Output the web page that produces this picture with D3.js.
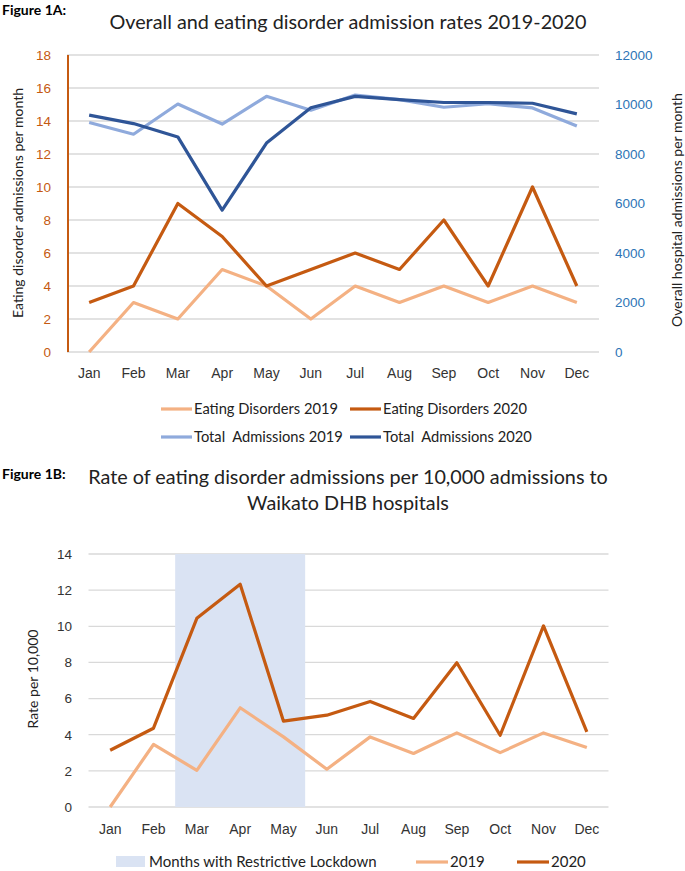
<!DOCTYPE html>
<html>
<head>
<meta charset="utf-8">
<script src="https://cdnjs.cloudflare.com/ajax/libs/d3/7.8.5/d3.min.js"></script>
<style>
  body { margin: 0; background: #fff; }
  svg { font-family: Lato, "Open Sans", sans-serif; }
  .grid line { stroke: #d9d9d9; stroke-width: 1.3; }
  .axis path, .axis line { display: none; }
</style>
</head>
<body>
<script>
// Data
var months = ["Jan", "Feb", "Mar", "Apr", "May", "Jun", "Jul", "Aug", "Sep", "Oct", "Nov", "Dec"];
var edTicks = [0, 2, 4, 6, 8, 10, 12, 14, 16, 18];
var totalTicks = [0, 2000, 4000, 6000, 8000, 10000, 12000];
var rateTicks = [0, 2, 4, 6, 8, 10, 12, 14];

var eating2019 = [0, 3, 2, 5, 4, 2, 4, 3, 4, 3, 4, 3];
var eating2020 = [3, 4, 9, 7, 4, 5, 6, 5, 8, 4, 10, 4];
var total2019 = [9270, 8800, 10020, 9210, 10330, 9770, 10380, 10200, 9890, 10030, 9860, 9130];
var total2020 = [9570, 9230, 8690, 5730, 8440, 9870, 10330, 10200, 10080, 10080, 10050, 9620];

var rate2019 = [0, 3.46, 2.03, 5.49, 3.88, 2.09, 3.88, 2.96, 4.1, 3.01, 4.1, 3.29];
var rate2020 = [3.14, 4.36, 10.44, 12.33, 4.75, 5.08, 5.84, 4.9, 7.98, 3.97, 10.02, 4.16];
var lockdownMonths = ["Mar", "Apr", "May"];

var orangeLight = "#F4B183", orangeDark = "#C55A11";
var blueLight = "#8FAADC", blueDark = "#2F5597";
var axisOrange = "#C55A11", axisBlue = "#2E75B6";

var svg = d3.select("body").append("svg")
    .attr("width", 685)
    .attr("height", 871);

// ---------- Figure 1A ----------
svg.append("text").attr("x", 2).attr("y", 15)
    .style("font-size", "14px").style("font-weight", "bold").text("Figure 1A:");
svg.append("text").attr("x", 348).attr("y", 29).attr("text-anchor", "middle")
    .style("font-size", "19.8px").attr("fill", "#222").text("Overall and eating disorder admission rates 2019-2020");

var xA = d3.scaleBand().domain(months).range([67, 599]);
var yA = d3.scaleLinear().domain([0, 18]).range([352, 55]);
var yA2 = d3.scaleLinear().domain([0, 12000]).range([352, 55]);

var gA = svg.append("g");

gA.append("g").attr("class", "grid")
    .selectAll("line").data(edTicks).join("line")
    .attr("x1", 67).attr("x2", 599)
    .attr("y1", function (d) { return yA(d); }).attr("y2", function (d) { return yA(d); });

// left orange axis line
gA.append("line").attr("x1", 68).attr("x2", 68).attr("y1", yA(18)).attr("y2", yA(0))
    .attr("stroke", axisOrange).attr("stroke-width", 2);

var leftAx = gA.append("g").attr("class", "axis").attr("transform", "translate(51,0)")
    .call(d3.axisLeft(yA).tickValues(edTicks).tickSize(0).tickPadding(0));
leftAx.selectAll("text").attr("fill", axisOrange).style("font-size", "13.5px");

var rightAx = gA.append("g").attr("class", "axis").attr("transform", "translate(615,0)")
    .call(d3.axisRight(yA2).tickValues(totalTicks).tickFormat(d3.format("d")).tickSize(0).tickPadding(0));
rightAx.selectAll("text").attr("fill", axisBlue).style("font-size", "13.5px");

var bottomAx = gA.append("g").attr("class", "axis").attr("transform", "translate(0,362)")
    .call(d3.axisBottom(xA).tickSize(0).tickPadding(6));
bottomAx.selectAll("text").attr("fill", "#333").style("font-size", "14px");

gA.append("text").attr("transform", "translate(23,203) rotate(-90)").attr("text-anchor", "middle")
    .style("font-size", "14px").attr("fill", "#222").text("Eating disorder admissions per month");
gA.append("text").attr("transform", "translate(682,210) rotate(-90)").attr("text-anchor", "middle")
    .style("font-size", "14px").attr("fill", "#222").text("Overall hospital admissions per month");

var lineA = function (scale) {
    return d3.line()
        .x(function (d, i) { return xA(months[i]) + xA.bandwidth() / 2; })
        .y(function (d) { return scale(d); });
};

var seriesA = [
    { values: total2019, color: blueLight, scale: yA2 },
    { values: total2020, color: blueDark, scale: yA2 },
    { values: eating2019, color: orangeLight, scale: yA },
    { values: eating2020, color: orangeDark, scale: yA }
];
seriesA.forEach(function (s) {
    gA.append("path").datum(s.values)
        .attr("fill", "none").attr("stroke", s.color).attr("stroke-width", 3.2)
        .attr("stroke-linejoin", "round")
        .attr("d", lineA(s.scale));
});

var legendA = [
    { label: "Eating Disorders 2019", color: orangeLight, x: 161, y: 409 },
    { label: "Eating Disorders 2020", color: orangeDark, x: 350, y: 409 },
    { label: "Total  Admissions 2019", color: blueLight, x: 161, y: 437 },
    { label: "Total  Admissions 2020", color: blueDark, x: 350, y: 437 }
];
legendA.forEach(function (l) {
    gA.append("line").attr("x1", l.x).attr("x2", l.x + 31).attr("y1", l.y).attr("y2", l.y)
        .attr("stroke", l.color).attr("stroke-width", 3.2);
    gA.append("text").attr("x", l.x + 33).attr("y", l.y + 5).style("font-size", "14.7px")
        .style("white-space", "pre").attr("fill", "#222").text(l.label);
});

// ---------- Figure 1B ----------
svg.append("text").attr("x", 2).attr("y", 479)
    .style("font-size", "14px").style("font-weight", "bold").text("Figure 1B:");
svg.append("text").attr("x", 348).attr("y", 484).attr("text-anchor", "middle")
    .style("font-size", "19.8px").attr("fill", "#222").text("Rate of eating disorder admissions per 10,000 admissions to");
svg.append("text").attr("x", 348).attr("y", 510).attr("text-anchor", "middle")
    .style("font-size", "19.8px").attr("fill", "#222").text("Waikato DHB hospitals");

var xB = d3.scaleBand().domain(months).range([88.5, 608.5]);
var yB = d3.scaleLinear().domain([0, 14]).range([807, 554]);

var gB = svg.append("g");

gB.append("g").attr("class", "grid")
    .selectAll("line").data(rateTicks).join("line")
    .attr("x1", 88.5).attr("x2", 608.5)
    .attr("y1", function (d) { return yB(d); }).attr("y2", function (d) { return yB(d); });

// lockdown shade
gB.append("rect")
    .attr("x", xB(lockdownMonths[0]))
    .attr("width", xB(lockdownMonths[lockdownMonths.length - 1]) + xB.bandwidth() - xB(lockdownMonths[0]))
    .attr("y", yB(14)).attr("height", yB(0) - yB(14))
    .attr("fill", "#DAE3F3");

var leftB = gB.append("g").attr("class", "axis").attr("transform", "translate(72,0)")
    .call(d3.axisLeft(yB).tickValues(rateTicks).tickSize(0).tickPadding(0));
leftB.selectAll("text").attr("fill", "#333").style("font-size", "13.5px");

var bottomB = gB.append("g").attr("class", "axis").attr("transform", "translate(0,818)")
    .call(d3.axisBottom(xB).tickSize(0).tickPadding(6));
bottomB.selectAll("text").attr("fill", "#333").style("font-size", "14px");

gB.append("text").attr("transform", "translate(38,679) rotate(-90)").attr("text-anchor", "middle")
    .style("font-size", "14px").attr("fill", "#222").text("Rate per 10,000");

var lineB = d3.line()
    .x(function (d, i) { return xB(months[i]) + xB.bandwidth() / 2; })
    .y(function (d) { return yB(d); });

[{ values: rate2019, color: orangeLight }, { values: rate2020, color: orangeDark }].forEach(function (s) {
    gB.append("path").datum(s.values)
        .attr("fill", "none").attr("stroke", s.color).attr("stroke-width", 3.2)
        .attr("stroke-linejoin", "round")
        .attr("d", lineB);
});

// legend B
gB.append("rect").attr("x", 116).attr("y", 856).attr("width", 29).attr("height", 11).attr("fill", "#DAE3F3");
gB.append("text").attr("x", 149).attr("y", 867).style("font-size", "15px").attr("fill", "#222")
    .text("Months with Restrictive Lockdown");
[{ label: "2019", color: orangeLight, x: 416 }, { label: "2020", color: orangeDark, x: 517 }].forEach(function (l) {
    gB.append("line").attr("x1", l.x).attr("x2", l.x + 32).attr("y1", 862).attr("y2", 862)
        .attr("stroke", l.color).attr("stroke-width", 3.2);
    gB.append("text").attr("x", l.x + 34).attr("y", 867).style("font-size", "15px")
        .attr("fill", "#222").text(l.label);
});
</script>
</body>
</html>
